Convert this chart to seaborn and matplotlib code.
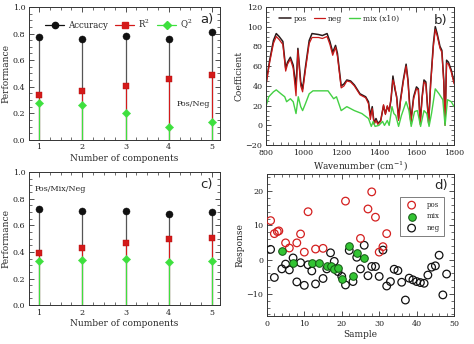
import matplotlib
matplotlib.use("Agg")
import matplotlib.pyplot as plt
import seaborn as sns
import numpy as np
import pandas as pd
from matplotlib.ticker import AutoMinorLocator, MultipleLocator
from matplotlib.lines import Line2D

# ---------------- data ----------------
components = [1, 2, 3, 4, 5]
acc_a = [0.77, 0.76, 0.785, 0.76, 0.81]
r2_a = [0.34, 0.365, 0.405, 0.46, 0.49]
q2_a = [0.28, 0.265, 0.205, 0.10, 0.135]
acc_c = [0.72, 0.71, 0.71, 0.685, 0.70]
r2_c = [0.395, 0.43, 0.465, 0.495, 0.505]
q2_c = [0.335, 0.34, 0.35, 0.325, 0.335]

wn = [800, 820, 840, 855, 870, 890, 905, 915, 930, 945, 960, 970, 985, 995, 1010,
      1030, 1045, 1080, 1100, 1125, 1140, 1155, 1170, 1180, 1200, 1215, 1230, 1250,
      1270, 1300, 1330, 1345, 1355, 1365, 1375, 1385, 1395, 1410, 1425, 1435, 1445,
      1455, 1465, 1475, 1485, 1495, 1505, 1515, 1530, 1545, 1555, 1570, 1585, 1600,
      1610, 1620, 1630, 1640, 1650, 1665, 1675, 1690, 1700, 1710, 1725, 1735, 1745,
      1752, 1760, 1770, 1785, 1800]
pos = [42, 66, 86, 93, 90, 85, 58, 64, 69, 61, 39, 78, 44, 37, 59,
       86, 93, 92, 91, 93, 85, 74, 81, 73, 40, 42, 46, 45,
       41, 32, 29, 24, 10, 19, 2, 7, 2, 5, 20, 12, 19,
       15, 26, 50, 37, 29, 7, 26, 46, 62, 46, 4, 29, 39,
       37, 3, 29, 46, 44, 2, 42, 83, 100, 93, 80, 76, 46,
       2, 66, 64, 56, 44]
neg = [40, 64, 83, 90, 87, 82, 55, 62, 67, 58, 30, 76, 40, 34, 56,
       83, 89, 89, 88, 90, 82, 71, 79, 70, 38, 40, 45, 44,
       40, 31, 28, 22, 6, 17, 1, 5, 1, 4, 21, 11, 20,
       14, 28, 46, 40, 27, 5, 24, 44, 60, 44, 2, 27, 37,
       36, 1, 27, 44, 42, 1, 40, 80, 97, 91, 78, 74, 44,
       0, 63, 62, 54, 42]
mix_wn = [800, 815, 840, 855, 880, 900, 910, 930, 945, 960, 972, 985, 995, 1010,
          1030, 1050, 1130, 1145, 1160, 1175, 1200, 1230, 1270, 1310, 1345, 1360,
          1370, 1380, 1400, 1420, 1430, 1445, 1455, 1470, 1480, 1490, 1505, 1520,
          1545, 1560, 1572, 1590, 1605, 1622, 1640, 1655, 1667, 1680, 1700, 1720,
          1740, 1752, 1765, 1785, 1800]
mix = [19, 29, 34, 36, 32, 29, 24, 27, 24, 12, 29, 19, 15, 22,
       32, 35, 35, 31, 27, 29, 15, 19, 15, 12, 7, -1,
       4, -1, 0, 4, 0, 5, 0, 19, 12, 10, -1, 10,
       24, 15, -1, 14, 15, -1, 15, 12, -1, 12, 37, 32,
       26, 0, 26, 24, 19]

pos_x = [1, 2, 2.8, 3.2, 5, 6, 8, 9, 10, 11, 13, 15, 21, 25, 27, 28, 29, 30, 31, 32]
pos_y = [11.4, 7.6, 8.2, 8.4, 4.9, 3.4, 4.9, 7.5, 2.2, 14.0, 3.1, 3.3, 17.1, 6.2,
         14.8, 19.8, 12.4, 2.2, 3.8, 7.6]
mix_x = [4, 7, 12, 14, 16, 17, 18, 19, 20, 22, 23, 24, 26]
mix_y = [2.6, -1.0, -1.1, -0.9, -1.8, -2.0, -2.8, -2.5, -5.7, 4.1, -4.7, 1.8, 0.4]
neg_x = [1, 2, 4, 5, 6, 7, 8, 9, 10, 11, 12, 13, 15, 16, 17, 18, 19, 20, 21, 22,
         23, 24, 25, 26, 27, 28, 29, 30, 31, 32, 33, 34, 35, 36, 37, 38, 39, 40,
         41, 42, 43, 44, 45, 46, 47, 48]
neg_y = [3.0, -5.2, -2.7, -1.3, -3.0, 0.5, -6.5, -0.9, -7.5, -1.5, -3.3, -7.1, -5.5,
         -2.7, 2.0, -0.5, -3.5, -4.9, -7.4, 2.7, -6.4, 0.7, -2.7, 4.2, -4.7, -2.0,
         -2.0, -4.9, 2.8, -7.7, -6.4, -2.8, -3.2, -6.6, -11.8, -5.4, -5.9, -6.4,
         -6.7, -6.9, -4.5, -2.2, -1.8, 1.3, -10.3, -4.2]

# ---------------- style ----------------
sns.set_style("ticks")
plt.rcParams["font.family"] = ["DejaVu Serif"]
plt.rcParams["mathtext.fontset"] = "dejavuserif"
plt.rcParams["font.size"] = 6
plt.rcParams["axes.linewidth"] = 0.7
plt.rcParams["axes.edgecolor"] = "#333333"

BLACK = "#111111"
RED = "#d41a1a"
GREEN = "#3ee03e"
SPEC_GREEN = "#44d044"
DARKRED = "#c81818"

fig = plt.figure(figsize=(4.74, 3.44), dpi=100)
ax_a = fig.add_axes([0.061, 0.593, 0.403, 0.387])
ax_b = fig.add_axes([0.561, 0.578, 0.397, 0.402])
ax_c = fig.add_axes([0.061, 0.113, 0.403, 0.387])
ax_d = fig.add_axes([0.563, 0.081, 0.395, 0.413])


def style_ticks(ax, xminor, yminor):
    ax.tick_params(which="both", direction="in", top=True, right=True,
                   labelsize=5.8, colors="#333333", labelcolor="#222222",
                   pad=2.5)
    ax.tick_params(which="major", length=3.5, width=0.6)
    ax.tick_params(which="minor", length=2, width=0.5)
    ax.xaxis.set_minor_locator(AutoMinorLocator(xminor))
    ax.yaxis.set_minor_locator(AutoMinorLocator(yminor))


def perf_panel(ax, acc, r2, q2):
    df = pd.DataFrame({"n": components, "acc": acc, "r2": r2, "q2": q2})
    ax.vlines(df["n"], 0, df["acc"], color="#555555", lw=0.9, zorder=1)
    ax.vlines(df["n"], 0, df["r2"], color=RED, lw=0.8, zorder=2)
    ax.vlines(df["n"], 0, df["q2"], color=GREEN, lw=0.8, zorder=3)
    sns.scatterplot(data=df, x="n", y="acc", marker="o", s=26, color=BLACK,
                    edgecolor=BLACK, linewidth=0.3, ax=ax, zorder=4)
    sns.scatterplot(data=df, x="n", y="r2", marker="s", s=24, color=RED,
                    edgecolor="#b01010", linewidth=0.3, ax=ax, zorder=4)
    sns.scatterplot(data=df, x="n", y="q2", marker="D", s=18, color=GREEN,
                    edgecolor=GREEN, linewidth=0.3, ax=ax, zorder=4)
    ax.set_xlim(0.77, 5.18)
    ax.set_ylim(0, 1.0)
    ax.set_xticks(components)
    ax.set_yticks([0.0, 0.2, 0.4, 0.6, 0.8, 1.0])
    ax.set_yticklabels(["0.0", "0.2", "0.4", "0.6", "0.8", "1.0"])
    ax.set_xlabel("Number of components", fontsize=6.5, labelpad=2)
    ax.set_ylabel("Performance", fontsize=6.5, labelpad=1.5)
    style_ticks(ax, 4, 4)


perf_panel(ax_a, acc_a, r2_a, q2_a)
perf_panel(ax_c, acc_c, r2_c, q2_c)

handles = [Line2D([], [], color=BLACK, marker="o", ms=4.5, lw=0.9),
           Line2D([], [], color=RED, marker="s", ms=4.5, lw=0.9),
           Line2D([], [], color=GREEN, marker="D", ms=4, lw=0.9)]
ax_a.legend(handles, ["Accuracy", "R$^2$", "Q$^2$"], loc="upper center",
            bbox_to_anchor=(0.47, 0.98), ncol=3, frameon=False, fontsize=6.2,
            handlelength=2.2, handletextpad=0.4, columnspacing=0.9)
ax_a.text(0.93, 0.905, "a)", transform=ax_a.transAxes, fontsize=9.5,
          family="DejaVu Sans", ha="center", va="center")
ax_a.text(4.19, 0.27, "Pos/Neg", fontsize=5.8, ha="left", va="center")
ax_c.text(0.93, 0.905, "c)", transform=ax_c.transAxes, fontsize=9.5,
          family="DejaVu Sans", ha="center", va="center")
ax_c.text(0.9, 0.875, "Pos/Mix/Neg", fontsize=5.8, ha="left", va="center")

# ---------------- panel b ----------------
spec = pd.DataFrame({"wn": wn, "pos": pos, "neg": neg})
mixdf = pd.DataFrame({"wn": mix_wn, "mix": mix})
sns.lineplot(data=spec, x="wn", y="pos", color="#2a1a1a", lw=1.1, ax=ax_b,
             label="pos")
sns.lineplot(data=spec, x="wn", y="neg", color=DARKRED, lw=0.9, ax=ax_b,
             label="neg")
sns.lineplot(data=mixdf, x="wn", y="mix", color=SPEC_GREEN, lw=1.0, ax=ax_b,
             label="mix (x10)")
ax_b.set_xlim(800, 1800)
ax_b.set_ylim(-20, 120)
ax_b.set_xticks([800, 1000, 1200, 1400, 1600, 1800])
ax_b.set_yticks(list(range(-20, 121, 20)))
ax_b.set_xlabel("Wavenumber (cm$^{-1}$)", fontsize=6.5, labelpad=2)
ax_b.set_ylabel("Coefficient", fontsize=6.5, labelpad=1.5)
style_ticks(ax_b, 5, 4)
ax_b.legend(loc="upper center", bbox_to_anchor=(0.39, 0.99), ncol=3,
            frameon=False, fontsize=5.5, handlelength=1.5, handletextpad=0.35,
            columnspacing=0.9)
ax_b.text(0.93, 0.905, "b)", transform=ax_b.transAxes, fontsize=9.5,
          family="DejaVu Sans", ha="center", va="center")

# ---------------- panel d ----------------
sc = pd.concat([
    pd.DataFrame({"s": pos_x, "r": pos_y, "g": "pos"}),
    pd.DataFrame({"s": mix_x, "r": mix_y, "g": "mix"}),
    pd.DataFrame({"s": neg_x, "r": neg_y, "g": "neg"}),
], ignore_index=True)
sns.scatterplot(data=sc[sc.g == "neg"], x="s", y="r", s=30, facecolor="none",
                edgecolor="#111111", linewidth=0.9, ax=ax_d, label="neg",
                zorder=3)
sns.scatterplot(data=sc[sc.g == "pos"], x="s", y="r", s=30, facecolor="none",
                edgecolor="#d42020", linewidth=0.9, ax=ax_d, label="pos",
                zorder=3)
sns.scatterplot(data=sc[sc.g == "mix"], x="s", y="r", s=30, color="#33c433",
                edgecolor="#115511", linewidth=0.7, ax=ax_d, label="mix",
                zorder=4)
ax_d.set_xlim(0, 50)
ax_d.set_ylim(-16.5, 25)
ax_d.set_xticks([0, 10, 20, 30, 40, 50])
ax_d.set_yticks([-10, 0, 10, 20])
ax_d.set_xlabel("Sample", fontsize=6.5, labelpad=2)
ax_d.set_ylabel("Response", fontsize=6.5, labelpad=1.5)
style_ticks(ax_d, 5, 5)
h, l = ax_d.get_legend_handles_labels()
order = [l.index("pos"), l.index("mix"), l.index("neg")]
leg = ax_d.legend([h[i] for i in order], [l[i] for i in order],
                  loc="upper right", bbox_to_anchor=(0.947, 0.84), fontsize=5,
                  frameon=True, fancybox=False, edgecolor="#444444",
                  borderpad=0.6, labelspacing=0.5, handletextpad=1.2,
                  borderaxespad=0)
leg.get_frame().set_linewidth(0.6)
ax_d.text(0.93, 0.92, "d)", transform=ax_d.transAxes, fontsize=9.5,
          family="DejaVu Sans", ha="center", va="center")

fig.savefig("out.png", dpi=100)
